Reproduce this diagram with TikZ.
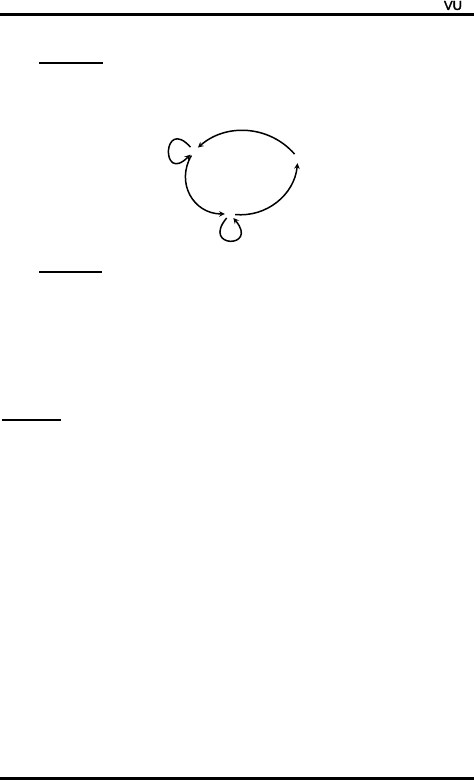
\documentclass[tikz,border=0pt]{standalone}
\usepackage{xcolor}
\usepackage{tikz}
\usepackage{amsmath}
\usepackage{fontspec}
\newfontfamily\logofont[FakeBold=2.5]{Liberation Sans}

\begin{document}
\begin{tikzpicture}[
    x=1pt, y=1pt,
    state/.style={circle, inner sep=0pt, minimum size=10pt},
    arrow/.style={->, >=stealth, line width=1.5pt},
    rule/.style={line width=2pt}
]
\useasboundingbox (0,0) rectangle (474,-780);

\node[font=\logofont\fontsize{13}{12}\selectfont] (logo) at (453,-5.5) {VU};
\draw[line width=2.3pt] (0,-14.5) -- (474,-14.5);

\draw[rule] (39,-63.3) -- (103,-63.3);
\draw[rule] (39,-272.2) -- (101.5,-272.2);
\draw[rule] (1.5,-420) -- (61,-420);

\node[state] (A) at (194,-151) {};
\node[state] (B) at (230,-214) {};
\node[state] (C) at (298,-158) {};

\draw[arrow] (C) to[bend right=45] (A);
\draw[arrow] (A) to[bend right=60, looseness=1.2] (B);
\draw[arrow] (B) to[bend right=45] (C);

\draw[arrow] (A) to[out=132, in=225, min distance=42pt] (A);
\draw[arrow] (B) to[out=230, in=310, min distance=40pt] (B);

\fill (0,-776.5) rectangle (474,-780);
\end{tikzpicture}
\end{document}
